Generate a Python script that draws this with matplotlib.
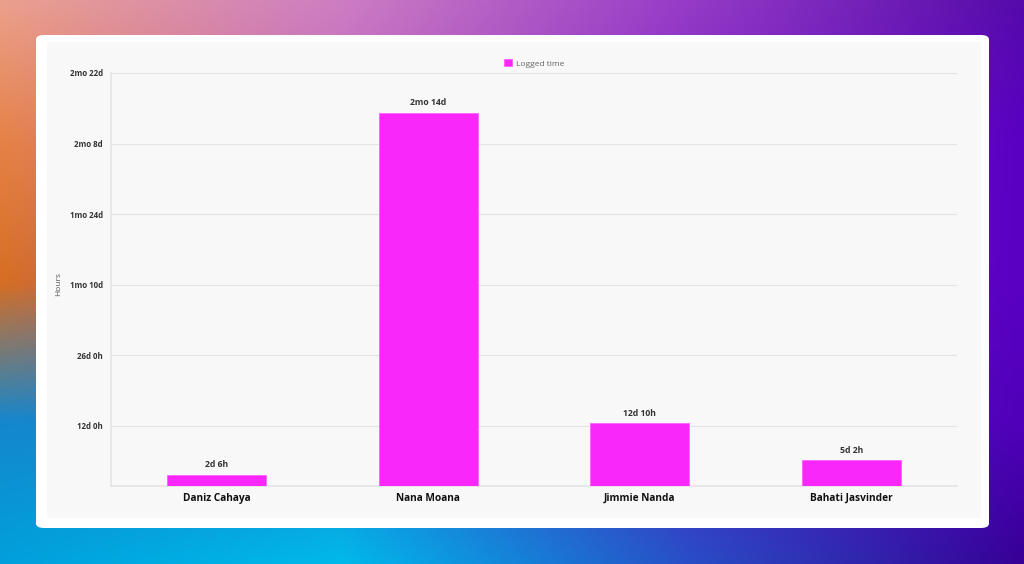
import numpy as np
import matplotlib
matplotlib.use("Agg")
import matplotlib.pyplot as plt
from matplotlib.patches import FancyBboxPatch, Rectangle

plt.rcParams['font.family'] = ['Open Sans', 'DejaVu Sans']

# logged time per person, in hours
names = ["Daniz Cahaya", "Nana Moana", "Jimmie Nanda", "Bahati Jasvinder"]
hours = [54, 1776, 298, 122]
tick_hours = [288, 624, 960, 1296, 1632, 1968]
y_max = 1968

BAR = "#f927f9"


def fmt_hours(h):
    """Hours -> '2mo 14d' or '12d 10h' (30 day months)."""
    h = int(round(h))
    days, rem = divmod(h, 24)
    if days >= 30:
        m, d = divmod(days, 30)
        return f"{m}mo {d}d"
    return f"{days}d {rem}h"


W, H = 1024, 564
fig = plt.figure(figsize=(W / 100, H / 100), dpi=100)

# gradient backdrop
xs = np.linspace(0, 1, 4)
ys = np.linspace(0, 1, 5)
anchors = np.array([
    [[235, 160, 140], [205, 125, 195], [150, 60, 200], [85, 10, 170]],
    [[230, 130, 70], [190, 100, 190], [130, 40, 195], [90, 0, 195]],
    [[215, 110, 35], [150, 80, 185], [110, 25, 195], [90, 0, 195]],
    [[20, 135, 205], [30, 130, 210], [80, 40, 190], [80, 0, 185]],
    [[0, 160, 220], [0, 185, 235], [40, 80, 200], [55, 0, 150]],
], dtype=float) / 255.0
gx = np.linspace(0, 1, 256)
gy = np.linspace(0, 1, 141)
rows = np.empty((len(ys), gx.size, 3))
for i in range(len(ys)):
    for c in range(3):
        rows[i, :, c] = np.interp(gx, xs, anchors[i, :, c])
img = np.empty((gy.size, gx.size, 3))
for j in range(gx.size):
    for c in range(3):
        img[:, j, c] = np.interp(gy, ys, rows[:, j, c])
bg = fig.add_axes([0, 0, 1, 1])
bg.set_zorder(-5)
bg.imshow(img, aspect="auto", extent=[0, 1, 0, 1], interpolation="bicubic")
bg.set_xlim(0, 1)
bg.set_ylim(0, 1)
bg.axis("off")

# white card + light panel
card = FancyBboxPatch((36 / W, (H - 528) / H), (989 - 36) / W, (528 - 35) / H,
                      boxstyle="round,pad=0,rounding_size=0.008",
                      transform=fig.transFigure, facecolor="white",
                      edgecolor="none", zorder=1)
fig.patches.append(card)
panel = Rectangle((47 / W, (H - 518) / H), (981 - 47) / W, (518 - 42) / H,
                  transform=fig.transFigure, facecolor="#f8f8f8",
                  edgecolor="none", zorder=1)
fig.patches.append(panel)

ax = fig.add_axes([111 / W, (H - 486) / H, 846 / W, 413 / H])
ax.set_zorder(5)
ax.set_facecolor("none")
x = np.arange(len(names))
bars = ax.bar(x, hours, width=0.47, color=BAR, edgecolor="#ff60ff",
              linewidth=0.6, label="Logged time", zorder=3)
for xi, v in zip(x, hours):
    ax.text(xi, v + 28, fmt_hours(v), ha="center", va="bottom",
            fontsize=6.2, fontweight="bold", color="#333333")

ax.set_xlim(-0.5, len(names) - 0.5)
ax.set_ylim(0, y_max)
ax.set_yticks(tick_hours)
ax.set_yticklabels([fmt_hours(t) for t in tick_hours])
ax.set_xticks(x)
ax.set_xticklabels(names)
ax.tick_params(axis="y", length=0, pad=6, labelsize=5.7, labelcolor="#333333")
ax.tick_params(axis="x", length=0, pad=5, labelsize=7.3, labelcolor="#111111")
for lbl in ax.get_xticklabels() + ax.get_yticklabels():
    lbl.set_fontweight("bold")
ax.grid(axis="y", color="#e4e4e4", linewidth=0.8, zorder=0)
ax.set_axisbelow(True)
for s in ["top", "right"]:
    ax.spines[s].set_visible(False)
ax.spines["left"].set_color("#e4e4e4")
ax.spines["bottom"].set_color("#e4e4e4")
ax.spines["left"].set_linewidth(1.2)
ax.spines["bottom"].set_linewidth(1.2)

ax.set_ylabel("Hours", fontsize=6, color="#555555")
ax.yaxis.set_label_coords(-0.058, 0.49)

ax.legend(loc="lower center", bbox_to_anchor=(0.5, 0.995), frameon=False,
          fontsize=6, handlelength=1.0, handleheight=1.0, handletextpad=0.5,
          labelcolor="#666666")

fig.savefig("out.png", dpi=100)
